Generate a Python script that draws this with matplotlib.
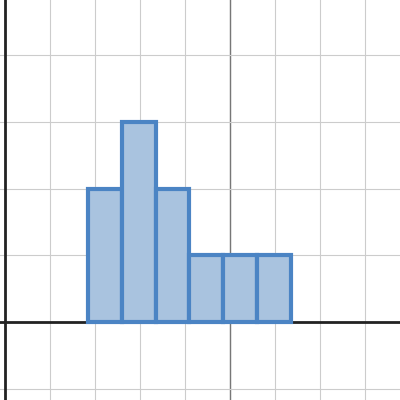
import matplotlib as mpl
mpl.use('Agg')
import matplotlib.pyplot as plt
import numpy as np

bin_edges = [1.85, 2.6, 3.35, 4.1, 4.85, 5.6, 6.35]
counts = [2, 3, 2, 1, 1, 1]

fig = plt.figure(figsize=(4, 4), dpi=100)
ax = fig.add_axes([0, 0, 1, 1])
ax.set_xlim(-0.111, 8.78)
ax.set_ylim(-1.17, 4.83)

# grid
for gx in range(0, 9):
    ax.axvline(gx, color='#cccccc', lw=0.8, zorder=0)
ax.axvline(5, color='#777777', lw=1.0, zorder=0)
for gy in range(-1, 5):
    ax.axhline(gy, color='#cccccc', lw=0.8, zorder=0)

ax.axvline(0, color='#222222', lw=2, zorder=1)
ax.axhline(0, color='#222222', lw=2, zorder=1)

widths = np.diff(bin_edges)
ax.bar(bin_edges[:-1], counts, width=widths, align='edge',
       facecolor='#a9c3df', edgecolor='#4b84c4', linewidth=3, zorder=2)

ax.set_xticks([])
ax.set_yticks([])
for s in ax.spines.values():
    s.set_visible(False)

fig.savefig('out.png')
